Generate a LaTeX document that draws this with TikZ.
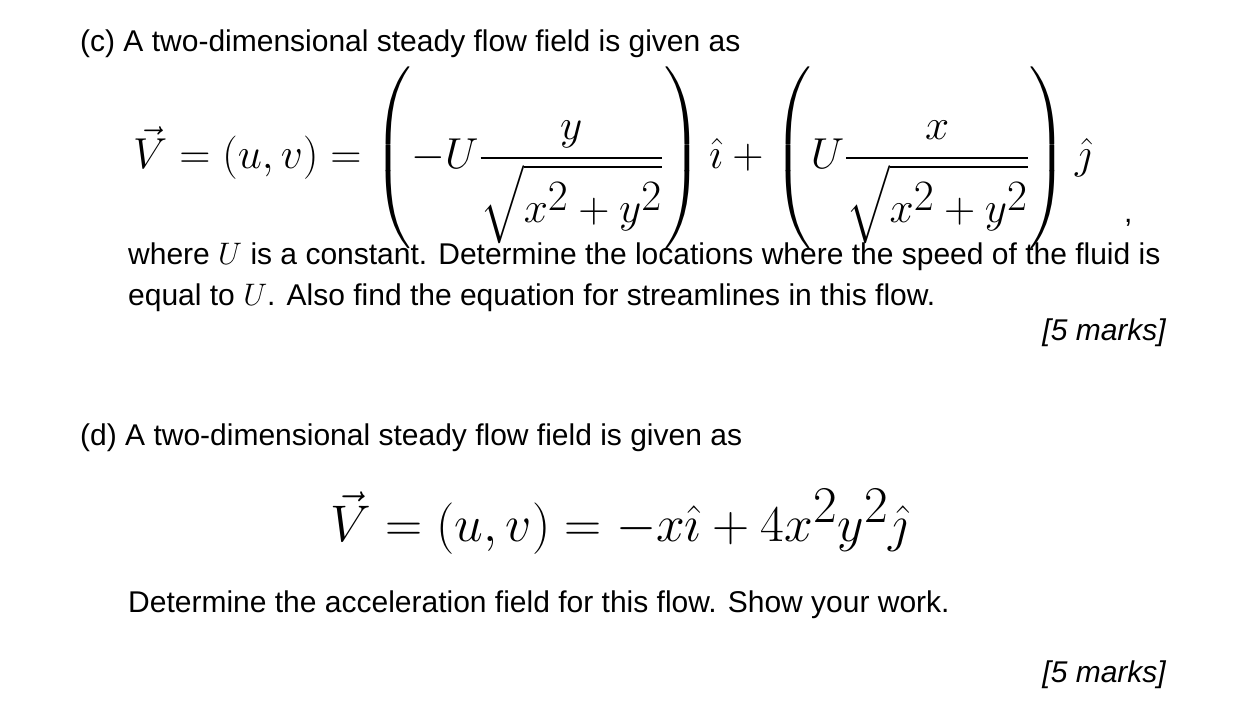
\documentclass[tikz,border=0pt]{standalone}
\usepackage{amsmath}
\usepackage{graphicx}
\usepackage{fontspec}
\setmainfont{Liberation Sans}
\newcommand{\bigU}{\scalebox{1.25}{$U$}}
\begin{document}
\begin{tikzpicture}[x=1pt,y=-1pt,
  txt/.style={anchor=base west,inner sep=0pt,font=\fontsize{30}{36}\selectfont},
  eq/.style={inner sep=0pt,font=\fontsize{33}{40}\selectfont}]
\useasboundingbox (0,0) rectangle (1238,714);
\node[txt] (c) at (80,52) {(c) A two-dimensional steady flow field is given as};
\node[eq,anchor=west] (e1) at (133,158) {\scalebox{1.74}{$\vec V=(u,v)=\left(-U\dfrac{y}{\sqrt{x^2+y^2}}\right)\hat{\imath}+\left(U\dfrac{x}{\sqrt{x^2+y^2}}\right)\hat{\jmath}$}};
\node[txt] (cm) at (1124,222) {,};
\node[txt] (w1) at (128,264) {where \bigU\ is a constant. Determine the locations where the speed of the fluid is};
\node[txt] (w2) at (128,305) {equal to \bigU. Also find the equation for streamlines in this flow.};
\node[txt,anchor=base east] (m1) at (1166,340) {\itshape [5 marks]};
\node[txt] (d) at (80,445) {(d) A two-dimensional steady flow field is given as};
\node[eq,anchor=west,font=\fontsize{40}{48}\selectfont] (e2) at (330,522) {\scalebox{2.07}{$\vec V=(u,v)=-x\hat{\imath}+4x^2y^2\hat{\jmath}$}};
\node[txt] (d2) at (128,612) {Determine the acceleration field for this flow. Show your work.};
\node[txt,anchor=base east] (m2) at (1166,682) {\itshape [5 marks]};
\end{tikzpicture}
\end{document}
